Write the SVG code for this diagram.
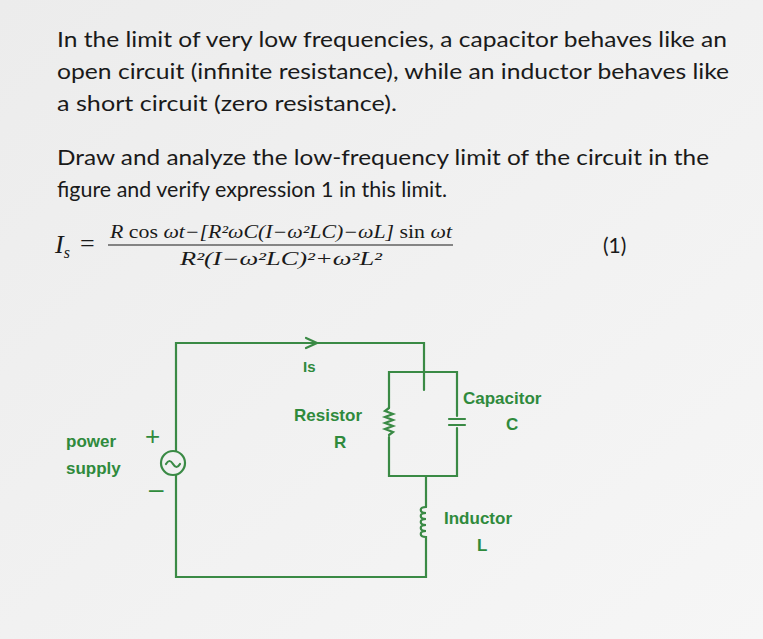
<svg xmlns="http://www.w3.org/2000/svg" width="763" height="639" viewBox="0 0 763 639">
<defs><style>
.t{font-family:Lato,"Open Sans",sans-serif;font-size:22px;fill:#1a1a1a}
.m{font-family:"Liberation Serif",serif;font-size:18px;fill:#1a1a1a;font-style:italic}
.w{fill:none;stroke:#3a8a45;stroke-width:2.2;stroke-linecap:round}
.h{font-family:"Liberation Sans",sans-serif;font-size:17px;fill:#2f8a3c;font-weight:bold}
.s{font-family:"Liberation Sans",sans-serif;font-size:26px;fill:#2f8a3c}
</style>
<linearGradient id="bg" x1="0" y1="0" x2="1" y2="1"><stop offset="0" stop-color="#ececec"/><stop offset="1" stop-color="#f6f6f6"/></linearGradient></defs>
<rect width="763" height="639" fill="url(#bg)"/>
<g id="text">
<text class="t" x="57" y="47" textLength="670" lengthAdjust="spacingAndGlyphs">In the limit of very low frequencies, a capacitor behaves like an</text>
<text class="t" x="57" y="79" textLength="672" lengthAdjust="spacingAndGlyphs">open circuit (infinite resistance), while an inductor behaves like</text>
<text class="t" x="57" y="111" textLength="340" lengthAdjust="spacingAndGlyphs">a short circuit (zero resistance).</text>
<text class="t" x="57" y="165" textLength="652" lengthAdjust="spacingAndGlyphs">Draw and analyze the low-frequency limit of the circuit in the</text>
<text class="t" x="57" y="197" textLength="390" lengthAdjust="spacingAndGlyphs">figure and verify expression 1 in this limit.</text>
</g>
<g id="formula">
<text class="m" x="55" y="253" style="font-size:26px">I<tspan style="font-size:16px" dy="5">s</tspan></text>
<text class="m" x="80" y="252" style="font-size:26px;font-style:normal">=</text>
<text class="m" x="110" y="238" textLength="342" lengthAdjust="spacingAndGlyphs">R <tspan font-style="normal">cos</tspan> ωt−[R²ωC(I−ω²LC)−ωL] <tspan font-style="normal">sin</tspan> ωt</text>
<line x1="108" y1="245" x2="453" y2="245" stroke="#1a1a1a" stroke-width="1.2"/>
<text class="m" x="180" y="265" textLength="202" lengthAdjust="spacingAndGlyphs">R²(I−ω²LC)²+ω²L²</text>
<text class="t" x="603" y="253" style="font-size:21px">(1)</text>
</g>
<g id="connectors">
<path class="w" d="M176,451 V343 H424 V390"/>
<path class="w" d="M306,338 L317,343 L306,348"/>
<path class="w" d="M389,408 V372 H457 V416 M457,428 V476 H389 V437"/>
<path class="w" d="M426,476 V507 M426,540 V577 H176 V475"/>
</g>
<g id="source"><circle class="w" cx="173" cy="463" r="12"/><path class="w" d="M166,464 q3.5,-6 7,0 t7,0"/>
<text class="h" x="66" y="447">power</text><text class="h" x="66" y="474">supply</text>
<text class="s" x="145" y="445">+</text><text class="s" x="149" y="498">–</text></g>
<g id="resistor"><path class="w" d="M389,408 l-4,3 l8,3 l-8,3 l8,3 l-8,3 l8,3 l-8,3 l8,3 l-4,3"/>
<text class="h" x="294" y="421">Resistor</text><text class="h" x="334" y="448">R</text></g>
<g id="capacitor"><path class="w" d="M449,419 h16 M449,425 h16"/>
<text class="h" x="463" y="404">Capacitor</text><text class="h" x="506" y="430">C</text></g>
<g id="inductor"><path class="w" d="M426,507 c-7,0 -7,6 0,6 c-7,0 -7,6 0,6 c-7,0 -7,6 0,6 c-7,0 -7,6 0,6 c-7,0 -7,6 0,6 v3"/>
<text class="h" x="444" y="524">Inductor</text><text class="h" x="477" y="551">L</text></g>
<text class="h" x="303" y="372" style="font-size:15px">Is</text>
</svg>
